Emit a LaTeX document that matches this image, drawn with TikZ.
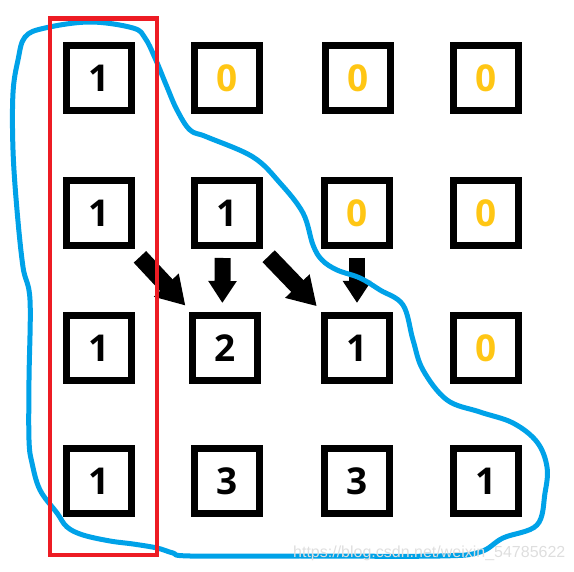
\documentclass[tikz,border=0pt]{standalone}
\usepackage{fontspec}
\setmainfont{Open Sans}
\newfontfamily\markfont{Liberation Sans}
\usetikzlibrary{arrows.meta}
\definecolor{paintred}{RGB}{237,28,36}
\definecolor{paintblue}{RGB}{0,162,232}
\definecolor{zeroyellow}{RGB}{255,198,20}
\definecolor{markgray}{RGB}{222,222,222}

\begin{document}
\begin{tikzpicture}[
  x=1pt, y=-1pt,
  cell/.style={rectangle, draw, line width=7pt, minimum size=65pt, inner sep=0pt, font=\fontsize{37}{37}\selectfont\bfseries},
  zero/.style={cell, text=zeroyellow},
  down/.style={-{Triangle[width=27pt, length=22pt]}, line width=16pt, shorten <=45pt, shorten >=45pt},
  diag/.style={-{Triangle[width=32pt, length=28pt]}, line width=17pt, shorten <=60pt, shorten >=58pt}
]
\useasboundingbox (0,0) rectangle (574,572);
% grid of cells
\node[cell] (a1) at (99,78) {1};
\node[zero] (a2) at (227,78) {0};
\node[zero] (a3) at (358,78) {0};
\node[zero] (a4) at (486,78) {0};
\node[cell] (b1) at (99,213) {1};
\node[cell] (b2) at (227,213) {1};
\node[zero] (b3) at (357,213) {0};
\node[zero] (b4) at (486,213) {0};
\node[cell] (c1) at (99,348) {1};
\node[cell] (c2) at (225,348) {2};
\node[cell] (c3) at (357,348) {1};
\node[zero] (c4) at (486,348) {0};
\node[cell] (d1) at (99,481) {1};
\node[cell] (d2) at (227,481) {3};
\node[cell] (d3) at (357,481) {3};
\node[cell] (d4) at (486,481) {1};
% arrows into the sums
\draw[diag] (b1.center) -- (c2.center);
\draw[down] ([xshift=-4pt]b2.center) -- ([xshift=-3pt]c2.center);
\draw[diag] (b2.center) -- (c3.center);
\draw[down] (b3.center) -- (c3.center);
% hand-drawn loop
\draw[paintblue, line width=5pt, line join=round] plot[smooth cycle, tension=0.6] coordinates {
  (25,37) (45,28) (90,22) (133,28) (145,38) (155,58) (167,87) (177,110) (190,130)
  (207,137) (253,157) (280,183) (303,213) (313,245) (322,260) (337,270) (360,278)
  (380,290) (403,305) (413,340) (423,370) (447,400) (480,412) (513,423) (537,442)
  (547,467) (545,493) (537,525) (503,538) (480,552) (440,556) (300,556) (190,556)
  (173,553) (157,548) (133,544) (110,541) (83,535) (67,527) (57,513) (40,490)
  (32,463) (29,440) (29,380) (30,300) (23,267) (17,210) (13,150) (13,93) (18,60)};
% first column
\draw[paintred, line width=4.5pt] (50,18.5) rectangle (157,555);
\node[font=\markfont\fontsize{16}{16}\selectfont, text=markgray, anchor=base west, inner sep=0pt] (mark) at (293,558) {https://blog.csdn.net/weixin\_54785622};
\end{tikzpicture}
\end{document}
